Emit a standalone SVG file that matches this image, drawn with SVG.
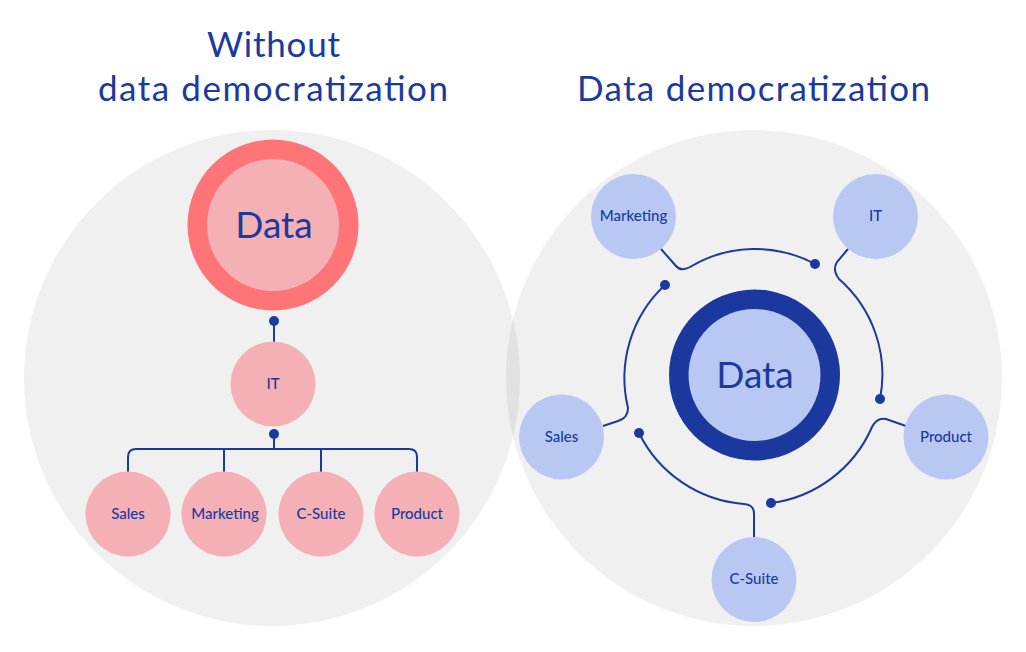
<svg xmlns="http://www.w3.org/2000/svg" width="1026" height="652" viewBox="0 0 1026 652">
<style>
.bg{fill:#000;fill-opacity:0.058}
.t{font-family:Lato,"Noto Sans",sans-serif;fill:#1b3a9f;text-anchor:middle}
.title{font-size:35px}
.big{font-size:37px}
.lbl{font-size:15px;font-weight:500}
.pk{fill:#f4b0b4}
.bl{fill:#b8c8f2}
.c{fill:none;stroke:#1b3a9f;stroke-width:2}
.d{fill:#1b3a9f}
</style>
<rect width="1026" height="652" fill="#fff"/>
<g id="backgrounds">
<circle class="bg" cx="272" cy="378" r="248"/>
<circle class="bg" cx="754" cy="378" r="248"/>
</g>
<g id="titles">
<text class="t title" x="273.5" y="57" textLength="133" lengthAdjust="spacing">Without</text>
<text class="t title" x="273" y="101" textLength="350" lengthAdjust="spacing">data democratization</text>
<text class="t title" x="753.5" y="101" textLength="353" lengthAdjust="spacing">Data democratization</text>
</g>
<g id="connectors">
<path class="c" d="M274 321 V342"/>
<path class="c" d="M274 434 V449 M128 472 V457 Q128 449 136 449 H409 Q417 449 417 457 V472 M224 449 V472 M321 449 V472"/>
<circle class="d" cx="274" cy="321" r="5"/>
<circle class="d" cx="274" cy="434" r="5"/>
<path class="c" d="M661 249 L676 266 Q681 272 690 267 A127 127 0 0 1 815 264"/>
<path class="c" d="M848 249 L837 262 Q832 270 839 279 A127 127 0 0 1 880 399"/>
<path class="c" d="M906 426 L886 419 Q877 417 872 427 A128 128 0 0 1 771 503"/>
<path class="c" d="M754 537 V513 Q754 505 744 504 A128 128 0 0 1 639 433"/>
<path class="c" d="M603 426 L618 421 Q628 418 628 408 A127 127 0 0 1 665 285"/>
<circle class="d" cx="815" cy="264" r="5"/>
<circle class="d" cx="880" cy="399" r="5"/>
<circle class="d" cx="771" cy="503" r="5"/>
<circle class="d" cx="639" cy="433" r="5"/>
<circle class="d" cx="665" cy="285" r="5"/>
</g>
<g id="left-data">
<circle cx="273" cy="225" r="85.5" fill="#ff7577"/>
<circle cx="273" cy="225" r="66" class="pk"/>
<text class="t big" x="274" y="238">Data</text>
</g>
<g id="left-it">
<circle cx="273" cy="384" r="42.5" class="pk"/>
<text class="t lbl" x="273" y="389">IT</text>
</g>
<g id="left-sales">
<circle cx="128" cy="514" r="42.5" class="pk"/>
<text class="t lbl" x="128" y="519">Sales</text>
</g>
<g id="left-marketing">
<circle cx="224" cy="514" r="42.5" class="pk"/>
<text class="t lbl" x="225" y="519">Marketing</text>
</g>
<g id="left-csuite">
<circle cx="321" cy="514" r="42.5" class="pk"/>
<text class="t lbl" x="321" y="519">C-Suite</text>
</g>
<g id="left-product">
<circle cx="417" cy="514" r="42.5" class="pk"/>
<text class="t lbl" x="417" y="519">Product</text>
</g>
<g id="right-data">
<circle cx="754.5" cy="375" r="85.5" fill="#1a389e"/>
<circle cx="754.5" cy="375" r="66" class="bl"/>
<text class="t big" x="755" y="388">Data</text>
</g>
<g id="right-marketing">
<circle cx="633.5" cy="216.5" r="42.5" class="bl"/>
<text class="t lbl" x="633.5" y="221">Marketing</text>
</g>
<g id="right-it">
<circle cx="875.5" cy="216.5" r="42.5" class="bl"/>
<text class="t lbl" x="875.5" y="221">IT</text>
</g>
<g id="right-sales">
<circle cx="561.5" cy="437" r="42.5" class="bl"/>
<text class="t lbl" x="561.5" y="442">Sales</text>
</g>
<g id="right-product">
<circle cx="946" cy="437" r="42.5" class="bl"/>
<text class="t lbl" x="946" y="442">Product</text>
</g>
<g id="right-csuite">
<circle cx="754" cy="579.5" r="42.5" class="bl"/>
<text class="t lbl" x="754" y="584">C-Suite</text>
</g>
</svg>
